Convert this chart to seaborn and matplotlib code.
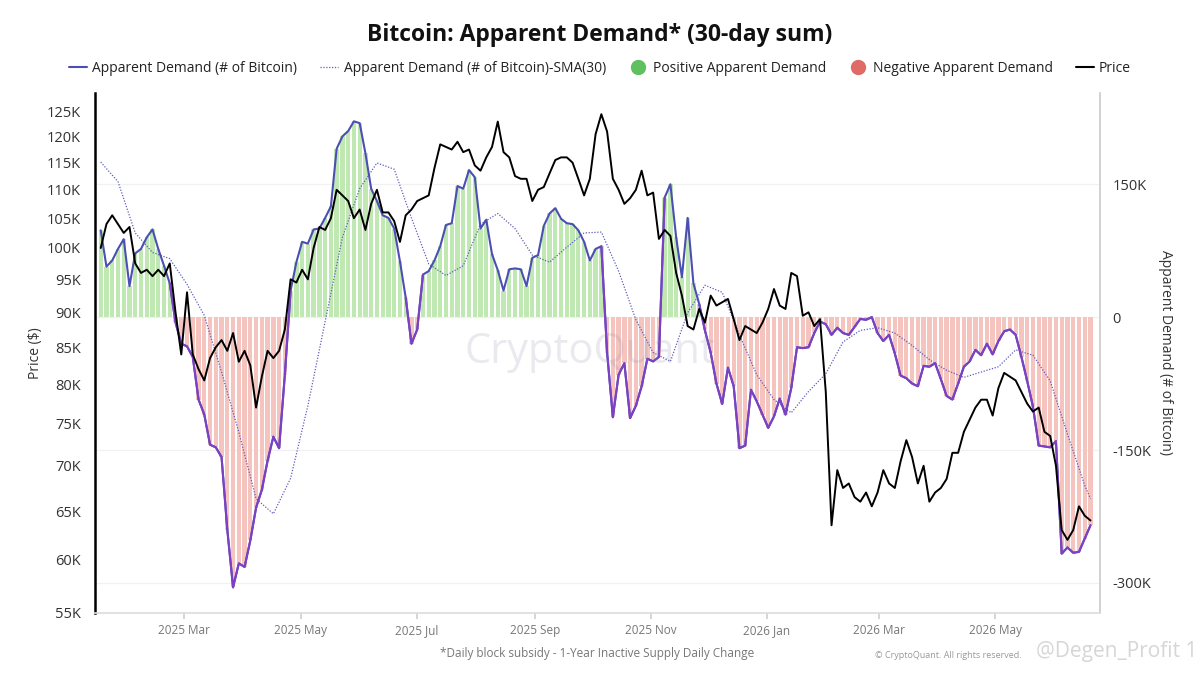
import numpy as np
import pandas as pd
import matplotlib
matplotlib.use("Agg")
import matplotlib.pyplot as plt
import matplotlib.dates as mdates
from matplotlib.lines import Line2D
import seaborn as sns

sns.set_theme(style="white")
plt.rcParams['font.family'] = ['Open Sans', 'DejaVu Sans']

# ~3-day samples, Jan 2025 -> Jun 2026
dates = pd.date_range("2025-01-16", "2026-06-20", periods=173)

# BTC price, thousands of $
price_k = [100, 104, 105.5, 104, 102.5, 103.5, 97.5, 96, 96.5, 95.5,
           96.5, 95.5, 97.5, 90, 84, 93, 84, 82, 80.5, 83.5,
           85, 86, 84.5, 87, 83, 84.5, 82.5, 77, 81, 84.5,
           83.5, 84.5, 87.5, 95, 94.5, 96.5, 95, 100, 103.5, 103,
           105, 110, 109, 108, 105, 106.5, 103, 107.5, 110, 106,
           106, 104.5, 101, 105.5, 106.5, 108, 108.5, 109, 114, 118.5,
           118, 117.5, 119, 117, 117.5, 114.5, 113.5, 116, 118, 123,
           117, 116, 112.5, 112, 112, 108, 110, 110.5, 113, 115.5,
           116, 116, 115, 112, 109, 112, 120.5, 124.5, 121, 112,
           110, 107.5, 108.5, 110, 113.5, 109, 109.5, 101.5, 103, 102,
           96, 92.5, 88, 87.5, 90.5, 88.5, 92.5, 91, 91.5, 92,
           89, 86, 88, 87.5, 87, 88.5, 90.5, 93.5, 91, 90.5,
           96, 95.5, 89.5, 90, 88, 89, 79, 63.5, 69.5, 67.5,
           68, 66.5, 66, 67, 65.5, 67, 69.5, 68, 67.5, 70.5,
           73, 71, 68, 70, 66, 67, 67.5, 68.5, 71.5, 71.5,
           74, 75.5, 77, 78, 78, 76, 79.5, 81.5, 81, 80.5,
           79, 77.5, 76.5, 77, 74, 73.5, 70, 63, 62, 63,
           65.5, 64.5, 64]

# apparent demand, 30-day sum, thousands of BTC
demand_k = [98, 57, 64, 77, 88, 35, 72, 77, 90, 99,
            77, 58, 38, -6, -30, -33, -45, -93, -110, -144,
            -147, -158, -240, -305, -278, -282, -252, -215, -195, -162,
            -135, -148, -65, 30, 62, 85, 83, 99, 100, 112,
            125, 190, 204, 210, 221, 219, 185, 145, 131, 115,
            112, 100, 63, 22, -30, -14, 48, 52, 64, 80,
            104, 106, 148, 145, 166, 158, 100, 110, 71, 53,
            30, 54, 55, 54, 35, 67, 70, 103, 117, 123,
            111, 106, 105, 98, 85, 64, 77, 80, -40, -113,
            -65, -52, -114, -100, -78, -47, -50, -45, 135, 150,
            90, 45, 112, 38, 15, -15, -40, -75, -98, -57,
            -78, -148, -145, -82, -95, -110, -125, -112, -92, -110,
            -80, -34, -35, -34, -18, -5, -8, -20, -12, -18,
            -20, -11, -2, -3, 0, -18, -27, -20, -41, -66,
            -69, -75, -78, -55, -56, -52, -70, -89, -93, -75,
            -56, -50, -37, -43, -30, -42, -27, -16, -14, -20,
            -45, -72, -101, -145, -146, -147, -140, -267, -260, -266,
            -265, -250, -235]

# SMA(30) of demand, every 3rd sample + last
sma_k = [175, 153, 95, 73, 66, 37, 2, -62, -130, -205,
         -222, -182, -100, -5, 90, 145, 174, 167, 112, 60,
         47, 58, 105, 117, 100, 70, 62, 79, 95, 96,
         52, -3, -40, -50, 5, 36, 28, -20, -65, -93,
         -108, -84, -64, -28, -15, -12, -18, -32, -48, -60,
         -68, -62, -56, -37, -43, -72, -132, -190, -205]
sma_dates = list(dates[::3]) + [dates[-1]]

price_ticks = [55, 60, 65, 70, 75, 80, 85, 90, 95, 100, 105, 110, 115, 120, 125]
demand_ticks = [-300, -150, 0, 150]

fig = plt.figure(figsize=(12, 6.75), dpi=100)
ax = fig.add_axes([95/1200, 1-613/675, 1005/1200, 520/675])
ax2 = ax.twinx()

demand = np.array(demand_k, dtype=float)
step = (dates[1] - dates[0]).total_seconds() / 86400
bar_colors = np.where(demand >= 0, "#c0e8b2", "#f5c4be")
ax2.bar(dates, demand, width=step * 0.75, color=bar_colors, linewidth=0, zorder=1)

sns.lineplot(x=dates, y=demand, ax=ax2, color="#4b4fb3", linewidth=1.5, zorder=3)
neg = demand < 0
neg_mask = neg | np.r_[neg[1:], False] | np.r_[False, neg[:-1]]
ax2.plot(dates, np.where(neg_mask, demand, np.nan), color="#7d40c4", linewidth=1.5, zorder=3)
ax2.plot(sma_dates, sma_k, color="#5e5ebc", linewidth=0.9, linestyle=(0, (1, 1.3)), zorder=2)

sns.lineplot(x=dates, y=price_k, ax=ax, color="black", linewidth=1.4)

ax.set_zorder(ax2.get_zorder() + 1)
ax.patch.set_visible(False)

# price axis (log)
ax.set_yscale("log")
ax.set_ylim(55, 128.9)
ax.yaxis.set_major_locator(matplotlib.ticker.FixedLocator(price_ticks))
ax.yaxis.set_minor_locator(matplotlib.ticker.NullLocator())
ax.set_yticklabels([f"{v}K" for v in price_ticks])
ax.tick_params(axis="y", length=0, labelsize=10.5, labelcolor="#333333", pad=10)
ax.set_ylabel("Price ($)", fontsize=10, color="#333333")
ax.yaxis.set_label_coords(-0.052, 0.5)

# demand axis
ax2.set_ylim(-334, 253)
ax2.set_yticks(demand_ticks)
ax2.set_yticklabels([f"{v}K" if v else "0" for v in demand_ticks])
ax2.tick_params(axis="y", length=0, labelsize=10.5, labelcolor="#333333", pad=9)
ax2.set_ylabel("Apparent Demand (# of Bitcoin)", fontsize=10, color="#333333", rotation=-90)
ax2.yaxis.set_label_coords(1.073, 0.5)
ax2.grid(axis="y", color="#f1f1f1", linewidth=0.9)
ax2.set_axisbelow(True)

ax.set_xlim(pd.Timestamp("2025-01-13"), pd.Timestamp("2026-06-25"))
ax.xaxis.set_major_locator(mdates.MonthLocator(bymonth=[1, 3, 5, 7, 9, 11]))
ax.xaxis.set_major_formatter(mdates.DateFormatter("%Y %b"))
ax.tick_params(axis="x", length=4, color="#d0d0d0", labelsize=8.5, labelcolor="#777777", pad=4, bottom=True)
ax.set_xlabel("")

for s in ["top", "right"]:
    ax.spines[s].set_visible(False)
ax.spines["left"].set_color("black")
ax.spines["left"].set_linewidth(1.8)
ax.spines["bottom"].set_color("#dddddd")
for s in ["top", "left", "bottom"]:
    ax2.spines[s].set_visible(False)
ax2.spines["right"].set_color("#cccccc")

fig.text(0.5, 1 - 35/675, "Bitcoin: Apparent Demand* (30-day sum)", ha="center", va="center",
         fontsize=16.5, fontweight="bold", color="#111111")

handles = [
    Line2D([], [], color="#4b4fb3", lw=1.5),
    Line2D([], [], color="#5e5ebc", lw=0.9, linestyle=(0, (1, 1.3))),
    Line2D([], [], marker="o", linestyle="none", markersize=10, color="#5fc05f"),
    Line2D([], [], marker="o", linestyle="none", markersize=10, color="#e06a66"),
    Line2D([], [], color="black", lw=1.5),
]
labels = ["Apparent Demand (# of Bitcoin)", "Apparent Demand (# of Bitcoin)-SMA(30)",
          "Positive Apparent Demand", "Negative Apparent Demand", "Price"]
fig.legend(handles, labels, loc="center", bbox_to_anchor=(0.5, 1 - 68/675), ncol=5, frameon=False,
           fontsize=10, handlelength=1.3, handletextpad=0.4, columnspacing=1.65, labelcolor="#222222")

fig.text(597/1200, 1 - 654/675, "*Daily block subsidy - 1-Year Inactive Supply Daily Change",
         ha="center", va="center", fontsize=8.5, color="#777777")
fig.text(590/1200, 1 - 352/675, "CryptoQuant", ha="center", va="center", fontsize=30,
         color="#8a8aa8", alpha=0.18, zorder=10)
fig.text(1022/1200, 1 - 655/675, "© CryptoQuant. All rights reserved.", ha="right", va="center",
         fontsize=6.5, color="#999999")
fig.text(1197/1200, 1 - 652/675, "@Degen_Profit 1", ha="right", va="center", fontsize=15,
         color="#bbbbbb", alpha=0.6)

fig.savefig("out.png", dpi=100)
